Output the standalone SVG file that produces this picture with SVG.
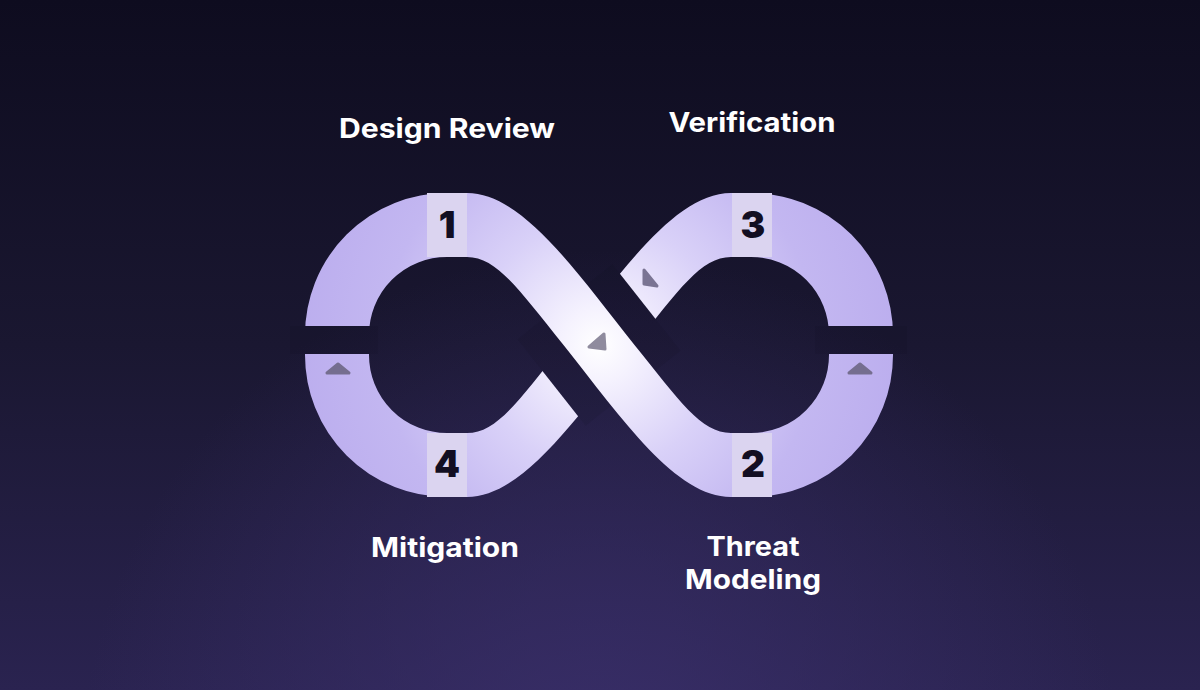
<svg xmlns="http://www.w3.org/2000/svg" width="1200" height="690" viewBox="0 0 1200 690">
  <defs>
    <linearGradient id="bg" x1="0" y1="0" x2="0" y2="1">
      <stop offset="0" stop-color="#0e0c1f"/>
      <stop offset="0.5" stop-color="#1a1731"/>
      <stop offset="1" stop-color="#2a2350"/>
    </linearGradient>
    <radialGradient id="glow" gradientUnits="userSpaceOnUse" cx="600" cy="770" r="520">
      <stop offset="0" stop-color="#3b306c" stop-opacity="0.85"/>
      <stop offset="1" stop-color="#3b306c" stop-opacity="0"/>
    </radialGradient>
    <radialGradient id="band" gradientUnits="userSpaceOnUse" cx="599" cy="345" r="310">
      <stop offset="0" stop-color="#ffffff"/>
      <stop offset="0.12" stop-color="#f5f2fe"/>
      <stop offset="0.4" stop-color="#d9d1f8"/>
      <stop offset="0.7" stop-color="#c3b7f1"/>
      <stop offset="1" stop-color="#bbadee"/>
    </radialGradient>
    <mask id="cutBars" maskUnits="userSpaceOnUse" x="0" y="0" width="1200" height="690">
      <rect x="0" y="0" width="1200" height="690" fill="#fff"/>
      <rect x="290" y="326" width="88" height="28" fill="#000"/>
      <rect x="815" y="326" width="92" height="28" fill="#000"/>
    </mask>
    <mask id="cutCross" maskUnits="userSpaceOnUse" x="0" y="0" width="1200" height="690">
      <rect x="0" y="0" width="1200" height="690" fill="#fff"/>
      <rect x="-55" y="-60.5" width="110" height="121" fill="#000" transform="translate(599,345) rotate(51.7)"/>
    </mask>
    <style>
      .loop { fill: none; stroke: url(#band); stroke-width: 64; }
      .strand { fill: url(#band); }
      .shade { fill: #0a0818; fill-opacity: 0.09; }
      .box { fill: #dbd4f0; }
      .num { font-family: "Inter", "Noto Sans", sans-serif; font-weight: 900; font-size: 37px; fill: #120e22; text-anchor: middle; }
      .label { font-family: "Inter", "Open Sans", sans-serif; font-weight: 700; font-size: 27px; fill: #ffffff; text-anchor: middle; }
      .arrow { stroke-width: 3; stroke-linejoin: round; }
    </style>
  </defs>

  <rect id="background" x="0" y="0" width="1200" height="690" fill="url(#bg)"/>
  <rect x="0" y="0" width="1200" height="690" fill="url(#glow)"/>

  <g id="infinity-band">
    <g mask="url(#cutBars)">
      <path class="loop" d="M447,225 A110,110 0 0 0 337,335 L337,355 A110,110 0 0 0 447,465"/>
      <path class="loop" d="M751,225 A110,110 0 0 1 861,335 L861,355 A110,110 0 0 1 751,465"/>
    </g>
    <!-- ascending strand (4 to 3), underneath, cut at the crossing -->
    <path class="strand" mask="url(#cutCross)" d="M751,193 L731,193 C676,193 623,270 563.5,345 C519,400 497,433 467,433 L447,433 L447,497 L467,497 C522,497 575,420 634.5,345 C679,290 701,257 731,257 L751,257 Z"/>
    <rect class="shade" x="-55" y="-60.5" width="110" height="121" transform="translate(599,345) rotate(51.7)"/>
    <!-- descending strand (1 to 2), on top -->
    <path class="strand" d="M447,193 L467,193 C522,193 575,270 634.5,345 C679,400 701,433 731,433 L751,433 L751,497 L731,497 C676,497 623,420 563.5,345 C519,290 497,257 467,257 L447,257 Z"/>
    <rect class="shade" x="290" y="326" width="88" height="28"/>
    <rect class="shade" x="815" y="326" width="92" height="28"/>
  </g>

  <g id="step-1">
    <rect class="box" x="427" y="193" width="40" height="64"/>
    <text class="num" x="447" y="238">1</text>
    <text class="label" x="447" y="138" textLength="216" lengthAdjust="spacingAndGlyphs">Design Review</text>
  </g>
  <g id="step-2">
    <rect class="box" x="732" y="433" width="40" height="64"/>
    <text class="num" x="753" y="477">2</text>
    <text class="label" x="753" y="556" textLength="93" lengthAdjust="spacingAndGlyphs">Threat</text>
    <text class="label" x="753" y="589" textLength="136" lengthAdjust="spacingAndGlyphs">Modeling</text>
  </g>
  <g id="step-3">
    <rect class="box" x="732" y="193" width="40" height="64"/>
    <text class="num" x="753" y="238">3</text>
    <text class="label" x="752" y="132" textLength="167" lengthAdjust="spacingAndGlyphs">Verification</text>
  </g>
  <g id="step-4">
    <rect class="box" x="427" y="433" width="40" height="64"/>
    <text class="num" x="447" y="477">4</text>
    <text class="label" x="445" y="557" textLength="148" lengthAdjust="spacingAndGlyphs">Mitigation</text>
  </g>

  <g id="connectors">
    <polygon class="arrow" points="327,373 338,364 349,373" fill="#756e8f" stroke="#756e8f"/>
    <polygon class="arrow" points="849,373 860,364 871,373" fill="#756e8f" stroke="#756e8f"/>
    <polygon class="arrow" points="589,347 604,334 605,349" fill="#8f8b9e" stroke="#8f8b9e"/>
    <polygon class="arrow" points="644,270 657,286 644,284" fill="#7a7493" stroke="#7a7493"/>
  </g>
</svg>
